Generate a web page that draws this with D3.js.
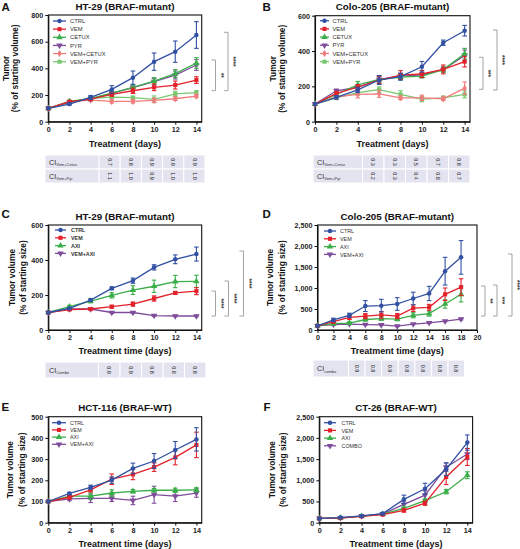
<!DOCTYPE html>
<html><head><meta charset="utf-8">
<script src="https://cdn.jsdelivr.net/npm/d3@7"></script>
<style>
body{margin:0;background:#fff}
svg{display:block}
text{font-family:"Liberation Sans",Arial,Helvetica,sans-serif}
</style>
</head><body>
<svg id="c" width="520" height="549"></svg>
<script>
// ---------------- DATA ----------------
const days14 = [0, 2, 4, 6, 8, 10, 12, 14];
const days18 = [0, 2, 4, 6, 8, 10, 12, 14, 16, 18];

// Panel A  HT-29
const A_CTRL = [100, 132, 182, 242, 330, 450, 525, 650];
const A_CTRL_err = [0, 8, 15, 28, 50, 65, 80, 100];
const A_VEM = [100, 150, 170, 205, 232, 258, 275, 312];
const A_VEM_err = [0, 8, 10, 15, 20, 25, 30, 25];
const A_CETUX = [100, 152, 175, 215, 258, 305, 360, 440];
const A_CETUX_err = [0, 8, 12, 15, 20, 25, 30, 40];
const A_PYR = [100, 145, 172, 212, 255, 300, 350, 425];
const A_PYR_err = [0, 8, 12, 15, 20, 25, 30, 40];
const A_VEMCETUX = [100, 150, 162, 152, 152, 160, 172, 192];
const A_VEMCETUX_err = [0, 8, 10, 12, 12, 15, 12, 12];
const A_VEMPYR = [100, 145, 175, 185, 180, 168, 208, 218];
const A_VEMPYR_err = [0, 8, 10, 12, 12, 25, 20, 15];

// Panel B  Colo-205
const B_CTRL = [100, 138, 180, 236, 255, 311, 447, 515];
const B_CTRL_err = [0, 10, 15, 25, 20, 30, 15, 30];
const B_VEM = [100, 160, 195, 236, 264, 270, 296, 340];
const B_VEM_err = [0, 12, 15, 20, 25, 20, 25, 30];
const B_CETUX = [100, 155, 208, 240, 252, 258, 295, 385];
const B_CETUX_err = [0, 10, 20, 20, 15, 10, 15, 30];
const B_PYR = [100, 175, 195, 240, 258, 265, 295, 375];
const B_PYR_err = [0, 10, 15, 20, 15, 15, 15, 30];
const B_VEMCETUX = [100, 140, 155, 158, 135, 135, 130, 190];
const B_VEMCETUX_err = [0, 10, 20, 20, 10, 15, 10, 35];
const B_VEMPYR = [100, 135, 165, 182, 155, 128, 135, 155];
const B_VEMPYR_err = [0, 10, 15, 15, 20, 15, 10, 20];

// Panel C  HT-29
const C_CTRL = [100, 124, 171, 238, 282, 358, 404, 434];
const C_CTRL_err = [0, 5, 8, 8, 15, 15, 25, 40];
const C_VEM = [100, 117, 120, 133, 148, 180, 212, 222];
const C_VEM_err = [0, 5, 5, 8, 12, 15, 8, 20];
const C_AXI = [100, 133, 165, 198, 228, 250, 277, 278];
const C_AXI_err = [0, 8, 10, 15, 25, 35, 35, 35];
const C_VEMAXI = [100, 120, 120, 100, 100, 82, 80, 80];
const C_VEMAXI_err = [0, 5, 5, 5, 5, 4, 4, 4];

// Panel D  Colo-205
const D_CTRL = [100, 240, 350, 570, 580, 620, 750, 870, 1400, 1730];
const D_CTRL_err = [0, 40, 50, 130, 150, 150, 150, 170, 330, 400];
const D_VEM = [100, 200, 300, 330, 360, 330, 520, 540, 850, 1020];
const D_VEM_err = [0, 40, 50, 60, 80, 60, 80, 70, 150, 200];
const D_AXI = [100, 150, 165, 250, 270, 260, 350, 390, 620, 850];
const D_AXI_err = [0, 30, 30, 40, 40, 40, 60, 60, 100, 180];
const D_VEMAXI = [100, 130, 140, 130, 120, 90, 140, 170, 210, 260];
const D_VEMAXI_err = [0, 10, 10, 10, 10, 10, 10, 15, 15, 20];

// Panel E  HCT-116
const E_CTRL = [100, 138, 167, 201, 256, 291, 343, 393];
const E_CTRL_err = [0, 5, 10, 15, 25, 35, 40, 55];
const E_VEM = [100, 120, 155, 205, 228, 262, 308, 367];
const E_VEM_err = [0, 8, 10, 25, 25, 20, 35, 60];
const E_AXI = [100, 125, 125, 140, 148, 153, 153, 155];
const E_AXI_err = [0, 5, 15, 15, 8, 8, 10, 10];
const E_VEMAXI = [100, 112, 115, 115, 105, 132, 125, 140];
const E_VEMAXI_err = [0, 8, 20, 15, 20, 40, 25, 20];

// Panel F  CT-26
const F_CTRL = [100, 120, 160, 215, 550, 800, 1260, 1890];
const F_CTRL_err = [0, 15, 20, 25, 100, 130, 150, 180];
const F_VEM = [100, 110, 150, 190, 290, 460, 1080, 1550];
const F_VEM_err = [0, 10, 15, 20, 40, 50, 180, 200];
const F_AXI = [100, 115, 155, 200, 340, 520, 730, 1120];
const F_AXI_err = [0, 10, 15, 20, 30, 40, 50, 80];
const F_COMBO = [100, 115, 155, 210, 430, 650, 1310, 1620];
const F_COMBO_err = [0, 10, 15, 20, 80, 100, 100, 130];

// Tick labels
const yTicksA = [0, 200, 400, 600, 800];
const yTicksB = [0, 200, 400, 600];
const yTicksC = [0, 200, 400, 600];
const yTicksD = [0, 500, 1000, 1500, 2000, 2500];
const yTicksE = [0, 100, 200, 300, 400, 500];
const yTicksF = [0, 500, 1000, 1500, 2000, 2500];
const xTicks14 = [0, 2, 4, 6, 8, 10, 12, 14];
const xTicks20 = [0, 2, 4, 6, 8, 10, 12, 14, 16, 18, 20];

// CI tables
const ciA_labels = ["Vem+Cetux", "Vem+Pyr"];
const ciA_row1 = ["0.7", "0.8", "0.9", "0.9", "0.9"];
const ciA_row2 = ["1.1", "1.0", "0.9", "1.0", "1.0"];
const ciB_labels = ["Vem+Cetux", "Vem+Pyr"];
const ciB_row1 = ["0.3", "0.3", "0.5", "0.7", "0.8"];
const ciB_row2 = ["0.2", "0.3", "0.4", "0.8", "0.7"];
const ciC_labels = ["Combo"];
const ciC_row1 = ["0.9", "0.9", "0.8", "0.8", "0.8"];
const ciD_labels = ["combo"];
const ciD_row1 = ["0.9", "0.8", "0.9", "0.8", "0.8", "0.8", "0.8"];

// ---------------- STYLES ----------------
const STY = {
  CTRL: {c: "#3251a3", m: "circle"},
  VEM: {c: "#e3212a", m: "square"},
  CETUX: {c: "#3bae4a", m: "tri"},
  AXI: {c: "#3bae4a", m: "tri"},
  PYR: {c: "#7e4c9b", m: "triDown"},
  "VEM+AXI": {c: "#7e4c9b", m: "triDown"},
  COMBO: {c: "#7e4c9b", m: "triDown"},
  "VEM+CETUX": {c: "#f07c7c", m: "diamond"},
  "VEM+PYR": {c: "#78c86f", m: "square"}
};

const svg = d3.select("#c");
const FONT = '"Liberation Sans",Arial,sans-serif';

function marker(g, type, cx, cy, color) {
  let sym, rot = 0, size;
  if (type === "circle") { sym = d3.symbolCircle; size = 16; }
  else if (type === "square") { sym = d3.symbolSquare; size = 17; }
  else if (type === "tri") { sym = d3.symbolTriangle; size = 18; }
  else if (type === "triDown") { sym = d3.symbolTriangle; size = 18; rot = 180; }
  else { sym = d3.symbolDiamond; size = 16; }
  g.append("path").attr("d", d3.symbol().type(sym).size(size)())
    .attr("transform", `translate(${cx},${cy}) rotate(${rot})`)
    .attr("fill", color);
}

function panel(cfg) {
  const g = svg.append("g");
  const x = d3.scaleLinear().domain(cfg.xDomain).range([cfg.x0, cfg.x1]);
  const y = d3.scaleLinear().domain(cfg.yDomain).range([cfg.yBot, cfg.yTop]);

  // frame
  g.append("rect").attr("x", cfg.x0).attr("y", cfg.yTop)
    .attr("width", cfg.x1 - cfg.x0).attr("height", cfg.yBot - cfg.yTop)
    .attr("fill", "none").attr("stroke", "#111").attr("stroke-width", 1.1);

  const fmt = cfg.comma ? d3.format(",") : d3.format("d");
  const xa = g.append("g").attr("transform", `translate(0,${cfg.yBot})`)
    .call(d3.axisBottom(x).tickValues(cfg.xTicks).tickSize(3).tickSizeOuter(0).tickPadding(2).tickFormat(d3.format("d")));
  const ya = g.append("g").attr("transform", `translate(${cfg.x0},0)`)
    .call(d3.axisLeft(y).tickValues(cfg.yTicks).tickSize(3).tickSizeOuter(0).tickPadding(2).tickFormat(fmt));
  [xa, ya].forEach(a => {
    a.select(".domain").attr("stroke", "#111").attr("stroke-width", 1.1);
    a.selectAll(".tick line").attr("stroke", "#111").attr("stroke-width", 1);
    a.selectAll(".tick text").attr("font-size", 7.2).attr("font-weight", "bold")
      .attr("font-family", FONT).attr("fill", "#222");
  });

  // series
  const line = d3.line().x(d => x(d.d)).y(d => y(d.v));
  const ser = cfg.series.slice().reverse();
  ser.forEach(s => {
    const st = STY[s.name];
    const pts = s.values.map((v, i) => ({d: cfg.days[i], v: v, e: s.err[i]}));
    g.append("path").datum(pts).attr("d", line).attr("fill", "none")
      .attr("stroke", st.c).attr("stroke-width", 1.3);
    pts.forEach(p => {
      if (p.e > 0) {
        const cx = x(p.d), ya1 = y(p.v + p.e), ya2 = y(Math.max(0, p.v - p.e));
        g.append("line").attr("x1", cx).attr("x2", cx).attr("y1", ya1).attr("y2", ya2)
          .attr("stroke", st.c).attr("stroke-width", 1.1);
        [ya1, ya2].forEach(yy => g.append("line").attr("x1", cx - 2.3).attr("x2", cx + 2.3)
          .attr("y1", yy).attr("y2", yy).attr("stroke", st.c).attr("stroke-width", 1.1));
      }
      marker(g, st.m, x(p.d), y(p.v), st.c);
    });
  });

  // legend
  const L = cfg.legend;
  cfg.series.forEach((s, i) => {
    const st = STY[s.name];
    const ly = L.y0 + i * L.dy;
    g.append("line").attr("x1", L.x0).attr("x2", L.x1).attr("y1", ly).attr("y2", ly)
      .attr("stroke", st.c).attr("stroke-width", 1.3);
    marker(g, st.m, (L.x0 + L.x1) / 2, ly, st.c);
    g.append("text").attr("x", L.tx).attr("y", ly + 2.1).text(s.name)
      .attr("font-size", L.fs).attr("font-weight", L.bold ? "bold" : "normal")
      .attr("fill", "#333");
  });

  // title
  g.append("text").attr("x", (cfg.x0 + cfg.x1) / 2).attr("y", cfg.titleY)
    .attr("text-anchor", "middle").attr("font-size", 9.8).attr("font-weight", "bold")
    .attr("fill", "#111").text(cfg.title);
  // panel letter
  g.append("text").attr("x", cfg.letterX).attr("y", cfg.letterY)
    .attr("font-size", 11.5).attr("font-weight", "bold").attr("fill", "#111").text(cfg.letter);
  // x label
  g.append("text").attr("x", (cfg.x0 + cfg.x1) / 2).attr("y", cfg.xLabY)
    .attr("text-anchor", "middle").attr("font-size", 9).attr("font-weight", "bold")
    .attr("fill", "#111").text(cfg.xLabel);
  // y label (two lines)
  const yc = (cfg.yTop + cfg.yBot) / 2;
  cfg.yLab.forEach((t, i) => {
    g.append("text").attr("transform", `translate(${cfg.yLabX[i]},${yc}) rotate(-90)`)
      .attr("text-anchor", "middle").attr("dy", "0.35em")
      .attr("font-size", cfg.yLabFs).attr("font-weight", "bold").attr("fill", "#111").text(t);
  });

  // significance brackets
  cfg.brackets.forEach(b => {
    g.append("path").attr("d", `M${b.x - 4},${b.y1}H${b.x}V${b.y2}H${b.x - 4}`)
      .attr("fill", "none").attr("stroke", "#9a9a9a").attr("stroke-width", 0.9);
    g.append("text").attr("transform", `translate(${b.x + 3},${(b.y1 + b.y2) / 2}) rotate(90)`)
      .attr("text-anchor", "middle").attr("font-size", 6.3).attr("font-weight", "bold")
      .attr("fill", "#333").text(b.label);
  });
}

function ciTable(t) {
  const g = svg.append("g");
  const nR = t.rows.length;
  const rh = (t.y1 - t.y0) / nR;
  const cw = (t.x1 - t.xc) / t.rows[0].length;
  t.rows.forEach((row, r) => {
    const ry = t.y0 + r * rh;
    g.append("rect").attr("x", t.x0).attr("y", ry).attr("width", t.xc - t.x0).attr("height", rh)
      .attr("fill", "#e4e4f0").attr("stroke", "#fff").attr("stroke-width", 1);
    const lab = g.append("text").attr("x", t.x0 + 4).attr("y", ry + rh / 2 + 2.5)
      .attr("font-size", 7.2).attr("fill", "#333");
    lab.append("tspan").text("CI");
    lab.append("tspan").attr("font-size", 4).attr("dy", 1.8).text(t.labels[r]);
    row.forEach((v, c) => {
      const cx = t.xc + c * cw;
      g.append("rect").attr("x", cx).attr("y", ry).attr("width", cw).attr("height", rh)
        .attr("fill", "#e4e4f0").attr("stroke", "#fff").attr("stroke-width", 1);
      g.append("text").attr("transform", `translate(${cx + cw / 2},${ry + rh / 2}) rotate(90)`)
        .attr("text-anchor", "middle").attr("dy", "0.35em").attr("font-size", 5.4)
        .attr("fill", "#222").text(v);
    });
  });
}

const mk = (names, vals, errs) => names.map((n, i) => ({name: n, values: vals[i], err: errs[i]}));

// ---------------- PANELS ----------------
panel({
  letter: "A", letterX: 1.5, letterY: 10.5, title: "HT-29 (BRAF-mutant)", titleY: 9.5,
  x0: 48.3, x1: 201.7, yTop: 15, yBot: 121.7, xDomain: [0, 14.5], yDomain: [0, 800],
  xTicks: xTicks14, yTicks: yTicksA, days: days14,
  xLabel: "Treatment (days)", xLabY: 146.5,
  yLab: ["Tumor", "(% of starting volume)"], yLabX: [6.5, 15.5], yLabFs: 8.4,
  series: mk(["CTRL", "VEM", "CETUX", "PYR", "VEM+CETUX", "VEM+PYR"],
    [A_CTRL, A_VEM, A_CETUX, A_PYR, A_VEMCETUX, A_VEMPYR],
    [A_CTRL_err, A_VEM_err, A_CETUX_err, A_PYR_err, A_VEMCETUX_err, A_VEMPYR_err]),
  legend: {x0: 53, x1: 66, tx: 70, y0: 21, dy: 8.15, fs: 5.8, bold: false},
  brackets: [{x: 215.5, y1: 60, y2: 90.7, label: "**"}, {x: 228, y1: 32.3, y2: 90.7, label: "****"}]
});

panel({
  letter: "B", letterX: 262.5, letterY: 10.5, title: "Colo-205 (BRAF-mutant)", titleY: 9.5,
  x0: 315, x1: 470, yTop: 15.7, yBot: 121.7, xDomain: [0, 14.5], yDomain: [0, 600],
  xTicks: xTicks14, yTicks: yTicksB, days: days14,
  xLabel: "Treatment (days)", xLabY: 146.5,
  yLab: ["Tumor", "(% of starting volume)"], yLabX: [273, 282.5], yLabFs: 8.4,
  series: mk(["CTRL", "VEM", "CETUX", "PYR", "VEM+CETUX", "VEM+PYR"],
    [B_CTRL, B_VEM, B_CETUX, B_PYR, B_VEMCETUX, B_VEMPYR],
    [B_CTRL_err, B_VEM_err, B_CETUX_err, B_PYR_err, B_VEMCETUX_err, B_VEMPYR_err]),
  legend: {x0: 320, x1: 329, tx: 332.5, y0: 20.7, dy: 8.2, fs: 5.8, bold: false},
  brackets: [{x: 483, y1: 57.3, y2: 89.3, label: "***"}, {x: 497, y1: 30, y2: 90, label: "****"}]
});

panel({
  letter: "C", letterX: 1.5, letterY: 217.5, title: "HT-29 (BRAF-mutant)", titleY: 220,
  x0: 48.3, x1: 201.7, yTop: 225, yBot: 330, xDomain: [0, 14.5], yDomain: [0, 600],
  xTicks: xTicks14, yTicks: yTicksC, days: days14,
  xLabel: "Treatment time (days)", xLabY: 354,
  yLab: ["Tumor volume", "(% of starting size)"], yLabX: [12, 23.5], yLabFs: 8.4,
  series: mk(["CTRL", "VEM", "AXI", "VEM+AXI"],
    [C_CTRL, C_VEM, C_AXI, C_VEMAXI], [C_CTRL_err, C_VEM_err, C_AXI_err, C_VEMAXI_err]),
  legend: {x0: 55, x1: 66, tx: 71, y0: 230, dy: 7.8, fs: 5.4, bold: true},
  brackets: [{x: 215.5, y1: 291, y2: 316, label: "****"}, {x: 228.5, y1: 281, y2: 316, label: "****"},
             {x: 243.5, y1: 251, y2: 316, label: "****"}]
});

panel({
  letter: "D", letterX: 262.5, letterY: 217.5, title: "Colo-205 (BRAF-mutant)", titleY: 219.5,
  x0: 317.5, x1: 477, yTop: 225, yBot: 330, xDomain: [0, 20], yDomain: [0, 2500],
  xTicks: xTicks20, yTicks: yTicksD, days: days18, comma: true,
  xLabel: "Treatment time (days)", xLabY: 354,
  yLab: ["Tumor volume", "(% of starting size)"], yLabX: [270.5, 282.5], yLabFs: 8.4,
  series: mk(["CTRL", "VEM", "AXI", "VEM+AXI"],
    [D_CTRL, D_VEM, D_AXI, D_VEMAXI], [D_CTRL_err, D_VEM_err, D_AXI_err, D_VEMAXI_err]),
  legend: {x0: 324, x1: 336, tx: 340, y0: 231, dy: 7.8, fs: 5.4, bold: false},
  brackets: [{x: 485, y1: 286, y2: 316, label: "**"}, {x: 497, y1: 285, y2: 316, label: "***"},
             {x: 512, y1: 254, y2: 316, label: "****"}]
});

panel({
  letter: "E", letterX: 1.5, letterY: 411, title: "HCT-116 (BRAF-WT)", titleY: 410.5,
  x0: 48.3, x1: 201.7, yTop: 416.7, yBot: 522.7, xDomain: [0, 14.5], yDomain: [0, 500],
  xTicks: xTicks14, yTicks: yTicksE, days: days14,
  xLabel: "Treatment time (days)", xLabY: 546.5,
  yLab: ["Tumor volume", "(% of starting size)"], yLabX: [10.5, 22], yLabFs: 8.4,
  series: mk(["CTRL", "VEM", "AXI", "VEM+AXI"],
    [E_CTRL, E_VEM, E_AXI, E_VEMAXI], [E_CTRL_err, E_VEM_err, E_AXI_err, E_VEMAXI_err]),
  legend: {x0: 52, x1: 66, tx: 70, y0: 422.7, dy: 7.2, fs: 5.4, bold: false},
  brackets: []
});

panel({
  letter: "F", letterX: 263.5, letterY: 411, title: "CT-26 (BRAF-WT)", titleY: 410.5,
  x0: 319.3, x1: 472.6, yTop: 416.7, yBot: 522.7, xDomain: [0, 14.5], yDomain: [0, 2500],
  xTicks: xTicks14, yTicks: yTicksF, days: days14, comma: true,
  xLabel: "Treatment time (days)", xLabY: 546.5,
  yLab: ["Tumor volume", "(% of starting size)"], yLabX: [272, 283.5], yLabFs: 8.4,
  series: mk(["CTRL", "VEM", "AXI", "COMBO"],
    [F_CTRL, F_VEM, F_AXI, F_COMBO], [F_CTRL_err, F_VEM_err, F_AXI_err, F_COMBO_err]),
  legend: {x0: 324, x1: 336, tx: 341.5, y0: 422.7, dy: 7.7, fs: 5.4, bold: false},
  brackets: []
});

// ---------------- TABLES ----------------
ciTable({x0: 45, xc: 99, x1: 205, y0: 155, y1: 183, labels: ciA_labels, rows: [ciA_row1, ciA_row2]});
ciTable({x0: 313, xc: 362.5, x1: 470, y0: 155, y1: 183, labels: ciB_labels, rows: [ciB_row1, ciB_row2]});
ciTable({x0: 45, xc: 98.5, x1: 206, y0: 362, y1: 378, labels: ciC_labels, rows: [ciC_row1]});
ciTable({x0: 313, xc: 348.4, x1: 464.6, y0: 360, y1: 377, labels: ciD_labels, rows: [ciD_row1]});
</script>
</body></html>
